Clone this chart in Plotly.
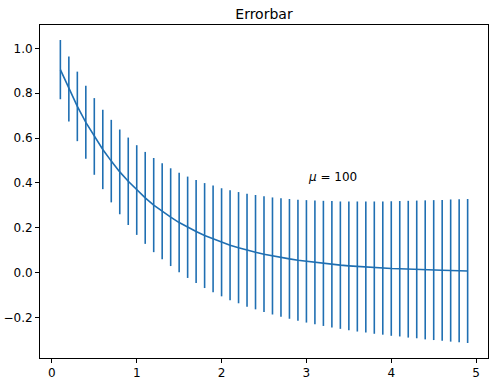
import plotly.graph_objects as go

x_vals = [0.1, 0.2, 0.3, 0.4, 0.5, 0.6, 0.7, 0.8, 0.9, 1.0,
          1.1, 1.2, 1.3, 1.4, 1.5, 1.6, 1.7, 1.8, 1.9, 2.0,
          2.1, 2.2, 2.3, 2.4, 2.5, 2.6, 2.7, 2.8, 2.9, 3.0,
          3.1, 3.2, 3.3, 3.4, 3.5, 3.6, 3.7, 3.8, 3.9, 4.0,
          4.1, 4.2, 4.3, 4.4, 4.5, 4.6, 4.7, 4.8, 4.9]
y_vals = [0.905, 0.819, 0.741, 0.670, 0.607, 0.549, 0.497, 0.449, 0.407, 0.368,
          0.333, 0.301, 0.273, 0.247, 0.223, 0.202, 0.183, 0.165, 0.150, 0.135,
          0.122, 0.111, 0.100, 0.091, 0.082, 0.074, 0.067, 0.061, 0.055, 0.050,
          0.045, 0.041, 0.037, 0.033, 0.030, 0.027, 0.025, 0.022, 0.020, 0.018,
          0.017, 0.015, 0.014, 0.012, 0.011, 0.010, 0.009, 0.008, 0.007]
y_err = [0.132, 0.145, 0.155, 0.163, 0.171, 0.177, 0.184, 0.189, 0.195, 0.200,
         0.205, 0.210, 0.214, 0.218, 0.222, 0.226, 0.230, 0.234, 0.238, 0.241,
         0.245, 0.248, 0.252, 0.255, 0.258, 0.261, 0.264, 0.267, 0.270, 0.273,
         0.276, 0.279, 0.282, 0.284, 0.287, 0.290, 0.292, 0.295, 0.297, 0.300,
         0.302, 0.305, 0.307, 0.310, 0.312, 0.314, 0.317, 0.319, 0.321]

x_ticks = [0, 1, 2, 3, 4, 5]
y_ticks = [-0.2, 0.0, 0.2, 0.4, 0.6, 0.8, 1.0]
y_tick_text = ["\u22120.2", "0.0", "0.2", "0.4", "0.6", "0.8", "1.0"]

color = "#1f6fb2"
font = "DejaVu Sans"

fig = go.Figure()
fig.add_trace(go.Scatter(
    x=x_vals, y=y_vals, mode="lines",
    line=dict(color=color, width=1.6),
    error_y=dict(type="data", array=y_err, visible=True,
                 thickness=1.6, width=0, color=color),
    showlegend=False, hoverinfo="skip",
))

fig.add_annotation(
    x=3.0, y=0.4, xref="x", yref="y",
    text="<i>\u03bc</i> = 100", showarrow=False,
    xanchor="left", yanchor="bottom", yshift=-3,
    font=dict(family=font, size=12, color="black"),
)

axis_common = dict(
    showline=True, linecolor="black", linewidth=1, mirror=True,
    ticks="outside", ticklen=4, tickwidth=1, tickcolor="black",
    showgrid=False, zeroline=False,
    tickfont=dict(family=font, size=12, color="black"),
)

fig.update_layout(
    width=500, height=391,
    margin=dict(l=40, r=12, t=25, b=33),
    paper_bgcolor="white", plot_bgcolor="white",
    title=dict(text="Errorbar", x=0.528, xanchor="center", y=0.965, yanchor="middle",
               font=dict(family=font, size=14, color="black")),
    xaxis=dict(range=[-0.14, 5.14], tickvals=x_ticks,
               ticktext=[str(t) for t in x_ticks], automargin=False, **axis_common),
    yaxis=dict(range=[-0.381, 1.104], tickvals=y_ticks,
               ticktext=y_tick_text, automargin=False, **axis_common),
)

fig.write_html("out.html", config={"displayModeBar": False},
               post_script="document.body.style.margin='0';document.body.style.overflow='hidden';")
